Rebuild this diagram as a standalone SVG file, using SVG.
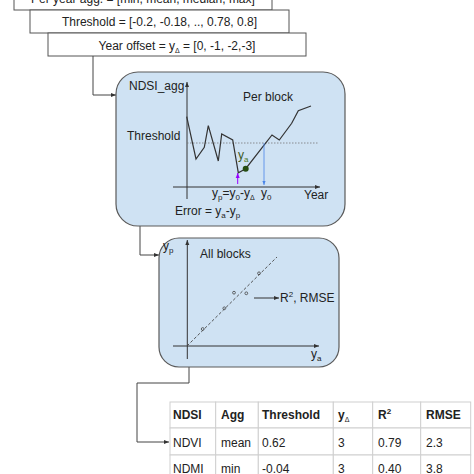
<svg xmlns="http://www.w3.org/2000/svg" width="474" height="474" viewBox="0 0 474 474">
<defs>
<style>
text{font-family:"Liberation Sans",Arial,sans-serif;font-size:12px;fill:#222}
.box{fill:#fff;stroke:#555;stroke-width:1}
.panel{fill:#cfe2f3;stroke:#5a5a5a;stroke-width:1.2}
.ax{stroke:#333;stroke-width:1;fill:none}
.con{stroke:#444;stroke-width:1;fill:none}
.cell{fill:#fff;stroke:#cfcfcf;stroke-width:1}
.b{font-weight:bold}
</style>
<marker id="ah" viewBox="0 0 10 10" refX="10" refY="5" markerWidth="5" markerHeight="5" orient="auto"><path d="M0,1 L10,5 L0,9 z" fill="#333"/></marker>
<marker id="ahp" viewBox="0 0 10 10" refX="10" refY="5" markerWidth="5" markerHeight="5" orient="auto"><path d="M0,1 L10,5 L0,9 z" fill="#9900ff"/></marker>
<marker id="ahb" viewBox="0 0 10 10" refX="10" refY="5" markerWidth="5" markerHeight="5" orient="auto"><path d="M0,1 L10,5 L0,9 z" fill="#4a86e8"/></marker>
</defs>

<g id="box-agg">
<rect class="box" x="14" y="-14" width="258" height="24"/>
<text x="143" y="3" text-anchor="middle">Per year agg. = [min, mean, median, max]</text>
</g>
<g id="box-threshold">
<rect class="box" x="30" y="10" width="259" height="23"/>
<text x="159.5" y="26" text-anchor="middle">Threshold = [-0.2, -0.18, .., 0.78, 0.8]</text>
</g>
<g id="box-offset">
<rect class="box" x="48" y="33" width="258" height="23"/>
<text x="177" y="50" text-anchor="middle">Year offset = y<tspan dy="3" font-size="7">Δ</tspan><tspan dy="-3"> = [0, -1, -2,-3]</tspan></text>
</g>

<g id="connectors">
<path class="con" d="M93,56 V95 H116" marker-end="url(#ah)"/>
<path class="con" d="M140,226 V255 H159" marker-end="url(#ah)"/>
<path class="con" d="M189,367 V383 H137 V442 H169" marker-end="url(#ah)"/>
</g>

<g id="panel-per-block">
<rect class="panel" x="116" y="72" width="229" height="154" rx="22"/>
<text x="129" y="90">NDSI_agg</text>
<text x="243" y="101">Per block</text>
<text x="127" y="140">Threshold</text>
<line class="ax" x1="187" y1="199" x2="187" y2="82" marker-end="url(#ah)"/>
<line class="ax" x1="173" y1="187" x2="320" y2="187" marker-end="url(#ah)"/>
<line x1="187" y1="143" x2="318" y2="143" stroke="#777" stroke-width="0.8" stroke-dasharray="1.5,1.5"/>
<polyline fill="none" stroke="#333" stroke-width="1.2" points="186.7,116.7 196,159 204.3,147.3 208.3,125.7 218.3,161 221.7,134 232.7,140 238.3,172.7 245.7,168.7 262.3,147.3 272,135 279.3,140 291.7,123.3 298.3,110.7 311,106"/>
<circle cx="245.7" cy="168.7" r="3" fill="#274e13"/>
<text x="238" y="159" fill="#38571a" style="fill:#3d5a1f">y<tspan dy="3" font-size="8" style="fill:#4e7a2a">a</tspan></text>
<line x1="237.7" y1="184" x2="237.7" y2="173" stroke="#9900ff" stroke-width="1" marker-end="url(#ahp)"/>
<line x1="264" y1="143" x2="264" y2="185" stroke="#4a86e8" stroke-width="0.8" marker-end="url(#ahb)"/>
<text x="212" y="197">y<tspan dy="3" font-size="8">p</tspan><tspan dy="-3">=y</tspan><tspan dy="3" font-size="8">0</tspan><tspan dy="-3">-y</tspan><tspan dy="3" font-size="7">Δ</tspan></text>
<text x="261" y="197">y<tspan dy="3" font-size="8">0</tspan></text>
<text x="304" y="199">Year</text>
<text x="175" y="215">Error = y<tspan dy="3" font-size="8">a</tspan><tspan dy="-3">-y</tspan><tspan dy="3" font-size="8">p</tspan></text>
</g>

<g id="panel-all-blocks">
<rect class="panel" x="159" y="238" width="180" height="129" rx="20"/>
<line class="ax" x1="187.3" y1="359" x2="187.3" y2="240" marker-end="url(#ah)"/>
<line class="ax" x1="173" y1="346" x2="319" y2="346" marker-end="url(#ah)"/>
<line x1="187" y1="346" x2="277" y2="257" stroke="#444" stroke-width="0.9" stroke-dasharray="3,2"/>
<g fill="none" stroke="#444" stroke-width="0.8">
<circle cx="202.7" cy="329" r="1.4"/>
<circle cx="224.3" cy="308.3" r="1.4"/>
<circle cx="234" cy="292.7" r="1.4"/>
<circle cx="246.3" cy="293.3" r="1.4"/>
<circle cx="259" cy="273.3" r="1.4"/>
</g>
<line class="ax" x1="254" y1="298" x2="279" y2="298" marker-end="url(#ah)"/>
<text x="280" y="302">R<tspan dy="-5" font-size="8">2</tspan><tspan dy="5">, RMSE</tspan></text>
<text x="163" y="250">y<tspan dy="3" font-size="8">p</tspan></text>
<text x="200" y="258">All blocks</text>
<text x="311" y="358">y<tspan dy="3" font-size="8">a</tspan></text>
</g>

<g id="table">
<g>
<rect class="cell" x="170" y="402" width="45.7" height="26"/>
<rect class="cell" x="215.7" y="402" width="42.6" height="26"/>
<rect class="cell" x="258.3" y="402" width="75" height="26"/>
<rect class="cell" x="333.3" y="402" width="39.4" height="26"/>
<rect class="cell" x="372.7" y="402" width="48" height="26"/>
<rect class="cell" x="420.7" y="402" width="50" height="26"/>
<rect class="cell" x="170" y="428" width="45.7" height="27"/>
<rect class="cell" x="215.7" y="428" width="42.6" height="27"/>
<rect class="cell" x="258.3" y="428" width="75" height="27"/>
<rect class="cell" x="333.3" y="428" width="39.4" height="27"/>
<rect class="cell" x="372.7" y="428" width="48" height="27"/>
<rect class="cell" x="420.7" y="428" width="50" height="27"/>
<rect class="cell" x="170" y="455" width="45.7" height="27"/>
<rect class="cell" x="215.7" y="455" width="42.6" height="27"/>
<rect class="cell" x="258.3" y="455" width="75" height="27"/>
<rect class="cell" x="333.3" y="455" width="39.4" height="27"/>
<rect class="cell" x="372.7" y="455" width="48" height="27"/>
<rect class="cell" x="420.7" y="455" width="50" height="27"/>
</g>
<text class="b" x="173" y="419">NDSI</text>
<text class="b" x="221" y="419">Agg</text>
<text class="b" x="262" y="419">Threshold</text>
<text class="b" x="338" y="419">y<tspan dy="3" font-size="7" font-weight="normal">Δ</tspan></text>
<text class="b" x="378" y="419">R<tspan dy="-5" font-size="8">2</tspan></text>
<text class="b" x="426" y="419">RMSE</text>
<text x="173" y="447">NDVI</text>
<text x="221" y="447">mean</text>
<text x="262" y="447">0.62</text>
<text x="338" y="447">3</text>
<text x="378" y="447">0.79</text>
<text x="426" y="447">2.3</text>
<text x="173" y="473">NDMI</text>
<text x="221" y="473">min</text>
<text x="262" y="473">-0.04</text>
<text x="338" y="473">3</text>
<text x="378" y="473">0.40</text>
<text x="426" y="473">3.8</text>
</g>
</svg>
